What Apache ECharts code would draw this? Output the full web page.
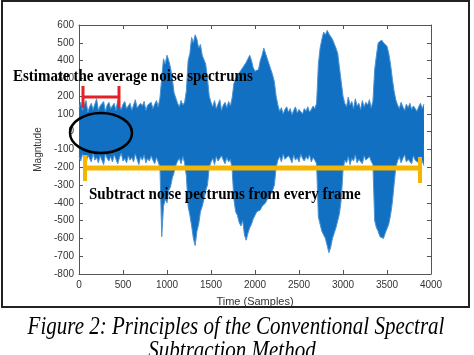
<!DOCTYPE html>
<html>
<head>
<meta charset="utf-8">
<script src="https://cdn.jsdelivr.net/npm/echarts@6/dist/echarts.min.js"></script>
<style>html,body{margin:0;padding:0;background:#fff;}#c{width:474px;height:355px;}</style>
</head>
<body>
<div id="c"></div>
<script>
// Sample positions (every 20 samples, 0..3920)
const samples = [];
for (let s = 0; s <= 3920; s += 20) samples.push(s);
// Upper envelope of the waveform
const upper = [
  130,165,120,150,175,110,140,160,125,155,
  185,120,145,135,170,115,150,165,130,140,
  160,120,175,140,125,155,170,130,145,160,
  120,150,180,135,125,160,145,170,120,150,
  140,165,130,155,175,140,190,
  300,410,380,430,400,360,300,220,190,
  160,140,175,150,165,
  230,400,440,530,500,545,520,470,490,430,440,380,300,200,
  165,140,175,130,155,180,120,150,165,135,170,145,190,
  270,300,290,330,320,360,350,390,380,430,400,360,340,330,350,400,430,470,440,410,380,350,320,280,200,
  150,115,135,100,125,140,110,130,95,120,140,105,125,135,100,130,115,140,110,125,145,130,160,
  380,470,520,560,545,570,550,560,520,530,470,440,360,280,200,
  160,140,195,150,170,130,185,145,160,125,175,140,165,150,180,135,170,
  350,430,500,490,515,500,510,480,440,380,300,230,180,
  150,130,165,140,120,155,135,160,125,145,150,115,140,160,130,155];
// Lower envelope of the waveform
const lower = [
  -140,-165,-125,-155,-180,-130,-150,-170,-120,-160,
  -145,-175,-135,-160,-185,-125,-150,-165,-140,-170,
  -130,-155,-180,-145,-120,-165,-150,-175,-135,-160,
  -145,-170,-125,-155,-185,-140,-160,-130,-175,-150,
  -165,-135,-160,-180,-145,-170,-200,
  -590,-420,-380,-400,-330,-310,-260,-230,-190,
  -165,-150,-180,-140,-175,
  -250,-420,-470,-530,-600,-640,-560,-520,-450,-420,-380,-330,-300,-200,
  -170,-150,-185,-140,-165,-175,-135,-160,-180,-145,-170,-155,-210,
  -380,-450,-470,-510,-530,-500,-580,-610,-570,-540,-520,-490,-470,-450,-460,-440,-420,-430,-400,-380,-370,-350,-330,-300,-200,
  -160,-140,-170,-125,-155,-165,-135,-150,-175,-130,-160,-145,-170,-125,-150,-165,-140,-155,-130,-170,-145,-160,-180,
  -480,-520,-560,-570,-600,-640,-680,-650,-600,-570,-540,-500,-460,-380,-220,
  -160,-175,-140,-185,-150,-165,-130,-175,-155,-145,-180,-135,-160,-170,-140,-165,-185,
  -500,-540,-560,-590,-580,-600,-570,-560,-520,-470,-400,-300,-200,
  -165,-140,-175,-150,-130,-170,-155,-145,-180,-135,-160,-150,-175,-140,-165,-190];
const xTicks = [0,500,1000,1500,2000,2500,3000,3500,4000];
const yTicks = [600,500,400,300,200,100,0,-100,-200,-300,-400,-500,-600,-700,-800];

const chart = echarts.init(document.getElementById('c'), null, {renderer: 'canvas'});
const blue = '#1170c2';
const edge = '#4a93d4';
const axisCol = '#555';
const labelCol = '#333';
const serifBold = 'bold 15px "Liberation Serif", "DejaVu Serif", serif';
const capFont = 'italic 21px "Liberation Serif", "DejaVu Serif", serif';

function baseAxis(extra) {
  return Object.assign({
    axisLine: {show: true, onZero: false, lineStyle: {color: axisCol, width: 1}},
    axisTick: {show: true, inside: true, length: 4, lineStyle: {color: axisCol}},
    splitLine: {show: false}
  }, extra);
}

chart.setOption({
  animation: false,
  backgroundColor: '#fff',
  grid: {left: 79, top: 25, right: 43, bottom: 81, show: false},
  xAxis: [baseAxis({
    type: 'value', min: xTicks[0], max: xTicks[xTicks.length-1], interval: 500,
    axisLabel: {color: labelCol, fontSize: 10, fontFamily: 'Liberation Sans, Arial', margin: 6,
      formatter: v => String(v)},
    name: 'Time (Samples)', nameLocation: 'middle', nameGap: 22,
    nameTextStyle: {color: labelCol, fontSize: 11, fontFamily: 'Liberation Sans, Arial'}
  }), baseAxis({
    type: 'value', position: 'top', min: 0, max: 4000, interval: 500,
    axisLabel: {show: false}
  })],
  yAxis: [baseAxis({
    type: 'value', min: -800, max: 600, interval: 100,
    axisLabel: {color: labelCol, fontSize: 10, fontFamily: 'Liberation Sans, Arial', margin: 5,
      formatter: v => yTicks.includes(v) ? String(v) : ''},
    name: 'Magntude', nameLocation: 'middle', nameGap: 27, nameRotate: 90,
    nameTextStyle: {color: labelCol, fontSize: 10, fontFamily: 'Liberation Sans, Arial'}
  }), baseAxis({
    type: 'value', position: 'right', min: -800, max: 600, interval: 100,
    axisLabel: {show: false}
  })],
  series: [{
    type: 'line', xAxisIndex: 0, yAxisIndex: 0,
    data: samples.map((s, i) => [s, upper[i]]),
    showSymbol: false, symbol: 'none',
    lineStyle: {color: edge, width: 1},
    areaStyle: {color: blue, opacity: 1, origin: -60},
    z: 2
  }, {
    type: 'line', xAxisIndex: 0, yAxisIndex: 0,
    data: samples.map((s, i) => [s, lower[i]]),
    showSymbol: false, symbol: 'none',
    lineStyle: {color: edge, width: 1},
    areaStyle: {color: blue, opacity: 1, origin: 60},
    z: 1
  }],
  graphic: [
    {type: 'rect', shape: {x: 2, y: 1, width: 467, height: 306}, style: {fill: 'none', stroke: '#222', lineWidth: 2}, z: 10},
    // red bracket
    {type: 'line', shape: {x1: 83, y1: 97, x2: 119, y2: 97}, style: {stroke: '#e32228', lineWidth: 3}, z: 20},
    {type: 'line', shape: {x1: 83, y1: 86, x2: 83, y2: 108}, style: {stroke: '#e32228', lineWidth: 3}, z: 20},
    {type: 'line', shape: {x1: 119, y1: 86, x2: 119, y2: 108}, style: {stroke: '#e32228', lineWidth: 3}, z: 20},
    // ellipse
    {type: 'ellipse', shape: {cx: 101, cy: 133, rx: 31, ry: 20}, style: {fill: 'none', stroke: '#000', lineWidth: 2.5}, z: 20},
    // yellow bracket
    {type: 'line', shape: {x1: 84, y1: 168, x2: 421, y2: 168}, style: {stroke: '#f5b400', lineWidth: 5}, z: 20},
    {type: 'line', shape: {x1: 85, y1: 155, x2: 85, y2: 181}, style: {stroke: '#f5b400', lineWidth: 4}, z: 20},
    {type: 'line', shape: {x1: 420, y1: 157, x2: 420, y2: 183}, style: {stroke: '#f5b400', lineWidth: 4}, z: 20},
    // annotation texts
    {type: 'text', x: 13, y: 77, scaleY: 1.15, style: {text: 'Estimate the average noise spectrums', font: serifBold, fill: '#000', textVerticalAlign: 'middle'}, z: 21},
    {type: 'text', x: 89, y: 195, scaleY: 1.15, style: {text: 'Subtract noise pectrums from every frame', font: serifBold, fill: '#000', textVerticalAlign: 'middle'}, z: 21},
    // caption
    {type: 'text', x: 236, y: 327, scaleY: 1.2, style: {text: 'Figure 2: Principles of the Conventional Spectral', font: capFont, fill: '#000', textAlign: 'center', textVerticalAlign: 'middle'}, z: 21},
    {type: 'text', x: 232, y: 351, scaleY: 1.2, style: {text: 'Subtraction Method', font: capFont, fill: '#000', textAlign: 'center', textVerticalAlign: 'middle'}, z: 21}
  ]
});
</script>
</body>
</html>
